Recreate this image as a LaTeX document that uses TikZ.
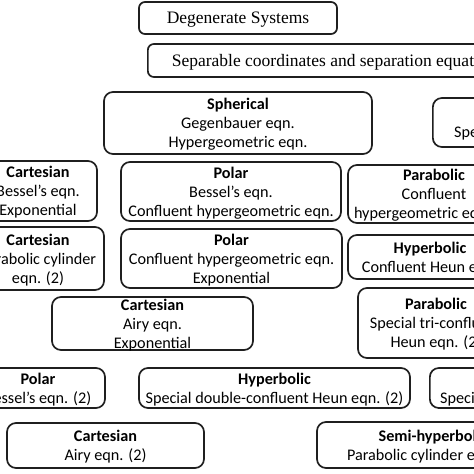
\documentclass[tikz,border=0pt]{standalone}
\usepackage{fontspec}
\setmainfont{Carlito}
\newfontfamily\titlefont{Liberation Serif}
\begin{document}
\begin{tikzpicture}[x=1pt,y=-1pt,
  box/.style={draw=black!88, line width=1.7pt, rounded corners=9pt, inner sep=0pt,
    align=center, text depth=0pt, font=\fontsize{16.2}{19}\selectfont},
  tbox/.style={draw=black!88, line width=1.7pt, rounded corners=6pt, inner sep=0pt,
    text depth=0pt, font=\titlefont\fontsize{17.5}{20}\selectfont},
  txt/.style={inner sep=0pt, font=\fontsize{16.2}{19}\selectfont}]
\useasboundingbox (0,0) rectangle (474,474);
\clip (0,0) rectangle (474,474);

\node[tbox, minimum width=198, minimum height=32] (deg) at (238,18) {Degenerate Systems};
\node[tbox, anchor=west, inner xsep=24pt, minimum height=33] (sep) at (147,60.5)
  {Separable coordinates and separation equations};

\node[box, minimum width=268, minimum height=62] (sph) at (238,123)
  {\textbf{Spherical}\\Gegenbauer eqn.\\Hypergeometric eqn.};
\node[box, anchor=west, minimum width=170, minimum height=49] (tr) at (432,122.5) {};
\node[txt, anchor=west] (trt) at (454,133) {Special};

\node[box, minimum width=118, minimum height=60] (c1) at (38,191)
  {\textbf{Cartesian}\\Bessel’s eqn.\\Exponential};
\node[box, minimum width=220, minimum height=59] (p1) at (231,191.5)
  {\textbf{Polar}\\Bessel’s eqn.\\Confluent hypergeometric eqn.};
\node[box, minimum width=172, minimum height=58] (pa1) at (434,194)
  {\textbf{Parabolic}\\Confluent\\hypergeometric eqn. (2)};

\node[box, minimum width=132, minimum height=63] (c2) at (38,258.5)
  {\textbf{Cartesian}\\Parabolic cylinder\\eqn. (2)};
\node[box, minimum width=221, minimum height=59] (p2) at (231.5,258.5)
  {\textbf{Polar}\\Confluent hypergeometric eqn.\\Exponential};
\node[box, minimum width=164, minimum height=44] (h1) at (430,257)
  {\textbf{Hyperbolic}\\Confluent Heun eqn.};

\node[box, minimum width=201, minimum height=53] (ca) at (152.5,323.5)
  {\textbf{Cartesian}\\Airy eqn.\\Exponential};
\node[box, minimum width=156, minimum height=70] (pa2) at (436,323)
  {\textbf{Parabolic}\\Special tri-confluent\\Heun eqn. (2)};

\node[box, minimum width=134, minimum height=40] (po3) at (38,388)
  {\textbf{Polar}\\Bessel’s eqn. (2)};
\node[box, minimum width=271, minimum height=40] (h2) at (274.5,388)
  {\textbf{Hyperbolic}\\Special double-confluent Heun eqn. (2)};
\node[box, anchor=west, minimum width=170, minimum height=40] (r3) at (429,388) {};
\node[txt, anchor=west] (r3t) at (440,399) {Special};

\node[box, minimum width=197, minimum height=45] (ca2) at (105.5,445.5)
  {\textbf{Cartesian}\\Airy eqn. (2)};
\node[box, minimum width=232, minimum height=46] (sh) at (433,445)
  {\textbf{Semi-hyperbolic}\\Parabolic cylinder eqn. (2)};
\end{tikzpicture}
\end{document}
